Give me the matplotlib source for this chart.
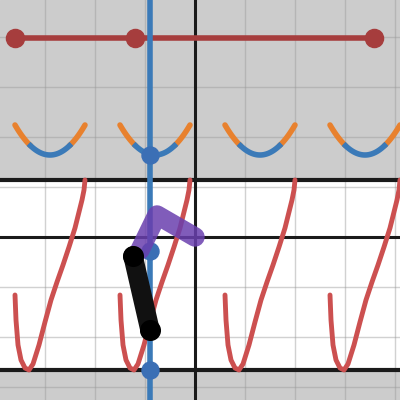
import numpy as np
import matplotlib
matplotlib.use("Agg")
import matplotlib.pyplot as plt

grid_x = [-5, 45, 95, 145, 195, 245, 295, 345, 395]
grid_y = [37, 87, 137, 187, 237, 287, 337, 387]
thick_h = [180, 237, 370]
thick_v = [195]
top_line_x = [15, 374]
top_line_y = 38
top_dots_x = [15, 135, 374]
bowl_centers = [50, 155, 260, 365]
wave_starts = [15, 120, 225, 330]
wave_dx = [0, 1, 3, 6, 10, 14, 18, 24, 30, 36, 42, 48, 54, 60, 64, 67, 69, 70]
wave_y = [295, 320, 345, 360, 368, 370, 364, 345, 322, 300, 282, 265, 247, 228, 212, 200, 190, 180]
blue_x = 150
blue_dots_y = [155, 251, 370]
purple_x = [140, 157, 195]
purple_y = [250, 215, 237]
black_x = [133, 150]
black_y = [256, 330]

fig = plt.figure(figsize=(4, 4), dpi=100)
ax = fig.add_axes([0, 0, 1, 1])
ax.set_xlim(0, 400); ax.set_ylim(400, 0); ax.axis('off')
ax.add_patch(plt.Rectangle((0, 0), 400, 180, color='#cccccc', zorder=0))
ax.add_patch(plt.Rectangle((0, 370), 400, 30, color='#cccccc', zorder=0))
for gx in grid_x:
    ax.axvline(gx, color='#999999', lw=1, alpha=0.45, zorder=1)
for gy in grid_y:
    ax.axhline(gy, color='#999999', lw=1, alpha=0.45, zorder=1)
for h in thick_h:
    ax.axhline(h, color='#1a1a1a', lw=3 if h != 237 else 2.2, zorder=2)
for v in thick_v:
    ax.axvline(v, color='#1a1a1a', lw=2.2, zorder=2)

ax.plot(top_line_x, [top_line_y]*2, color='#a63d3d', lw=4, zorder=3)
ax.scatter(top_dots_x, [top_line_y]*3, s=170, color='#a63d3d', zorder=4)

t = np.linspace(-35, 35, 100)
for c in bowl_centers:
    yy = 155 - 30 * (t / 35) ** 2
    ax.plot(c + t[t <= -19], yy[t <= -19], color='#e8812e', lw=4, solid_capstyle='round', zorder=3)
    ax.plot(c + t[t >= 19], yy[t >= 19], color='#e8812e', lw=4, solid_capstyle='round', zorder=3)
    m = np.abs(t) <= 20
    ax.plot(c + t[m], yy[m], color='#3b7ab8', lw=4, zorder=3)

for s in wave_starts:
    ax.plot(np.array(wave_dx) + s, wave_y, color='#cc5050', lw=3.5, solid_capstyle='round', zorder=3)

ax.axvline(blue_x, color='#3b7ab8', lw=4, zorder=5)
ax.scatter([blue_x]*3, blue_dots_y, s=150, color='#3b6fb5', zorder=6)

ax.plot(purple_x, purple_y, color='#6a3fae', lw=14, alpha=0.85, solid_capstyle='round', solid_joinstyle='round', zorder=7)
ax.plot(black_x, black_y, color='#111111', lw=14, solid_capstyle='round', zorder=8)
ax.scatter(black_x, black_y, s=200, color='#000000', zorder=8)

fig.savefig('out.png', dpi=100)
